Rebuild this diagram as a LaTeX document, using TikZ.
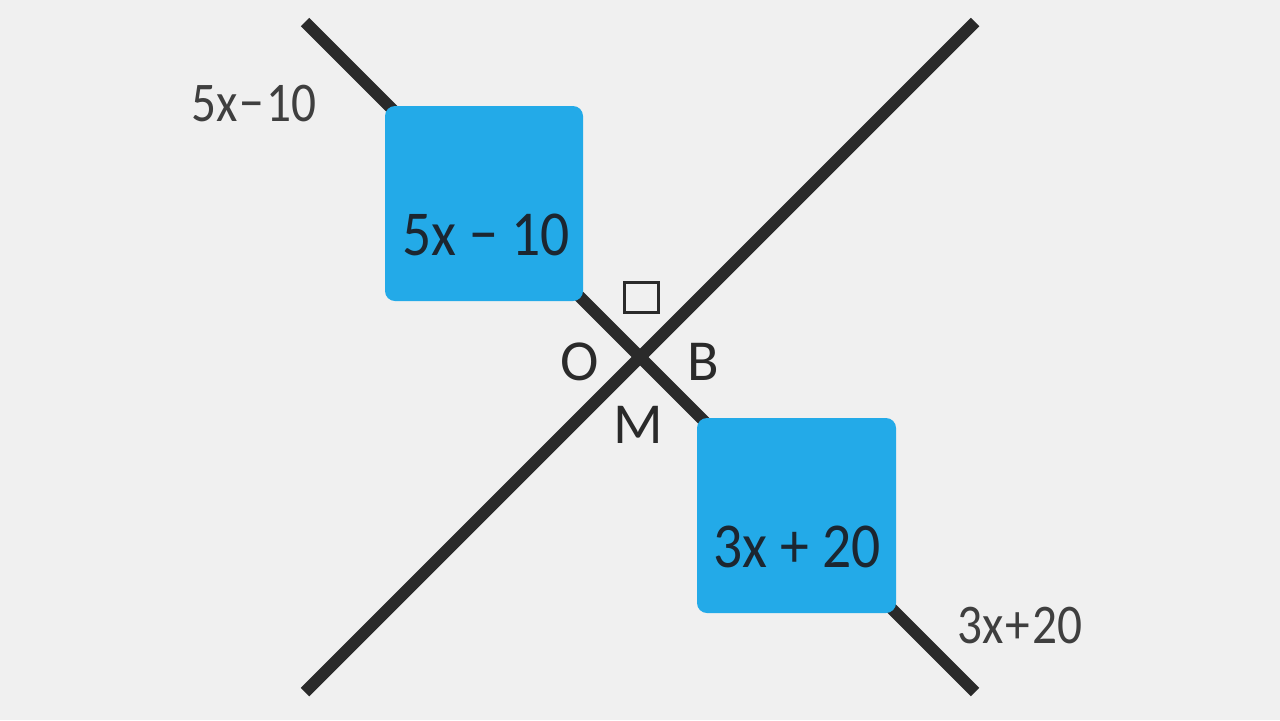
\documentclass[tikz,border=0pt]{standalone}
\usepackage{fontspec}
\setmainfont{Carlito}
\definecolor{bg}{HTML}{F0F0F0}
\definecolor{boxblue}{HTML}{23AAE8}
\definecolor{linec}{HTML}{2A2A2A}
\definecolor{txt}{HTML}{1C2630}
\begin{document}
\begin{tikzpicture}[x=0.5pt,y=-0.5pt,
  bar/.style={draw=linec,line width=6pt},
  bluebox/.style={fill=boxblue,rounded corners=5pt,draw=none},
  boxtext/.style={text=txt,font=\fontsize{32}{36}\selectfont,inner sep=0pt},
  sidelabel/.style={text=linec!90,font=\fontsize{28}{30}\selectfont,inner sep=0pt},
  ptlabel/.style={text=linec,font=\fontsize{29}{30}\selectfont,inner sep=0pt}]
\fill[bg] (0,0) rectangle (1280,720);
\useasboundingbox (0,0) rectangle (1280,720);
\coordinate (a1) at (305,22);
\coordinate (a2) at (975,692);
\coordinate (b1) at (975,22);
\coordinate (b2) at (305,692);
\draw[bar] (a1) -- (a2);
\draw[bar] (b1) -- (b2);
\path[bluebox] (385,106) rectangle (583,301);
\path[bluebox] (697,418) rectangle (896,613);
\node[boxtext] (t1) at (486,235) {\scalebox{0.9}[1]{5x − 10}};
\node[boxtext] (t2) at (797,547) {\scalebox{0.9}[1]{3x + 20}};
\node[sidelabel] (l1) at (254,104) {\scalebox{0.88}[1]{5x\kern1pt−\kern1pt10}};
\node[sidelabel] (l2) at (1020,626) {\scalebox{0.88}[1]{3x\kern1pt+\kern1pt20}};
\node[ptlabel] (o) at (580,362) {O};
\node[ptlabel] (b) at (703,362) {B};
\node[ptlabel] (m) at (638,425) {M};
\node[draw=linec,line width=1.5pt,minimum width=17pt,minimum height=15pt,inner sep=0pt] (sq) at (641,297) {};
\end{tikzpicture}
\end{document}
